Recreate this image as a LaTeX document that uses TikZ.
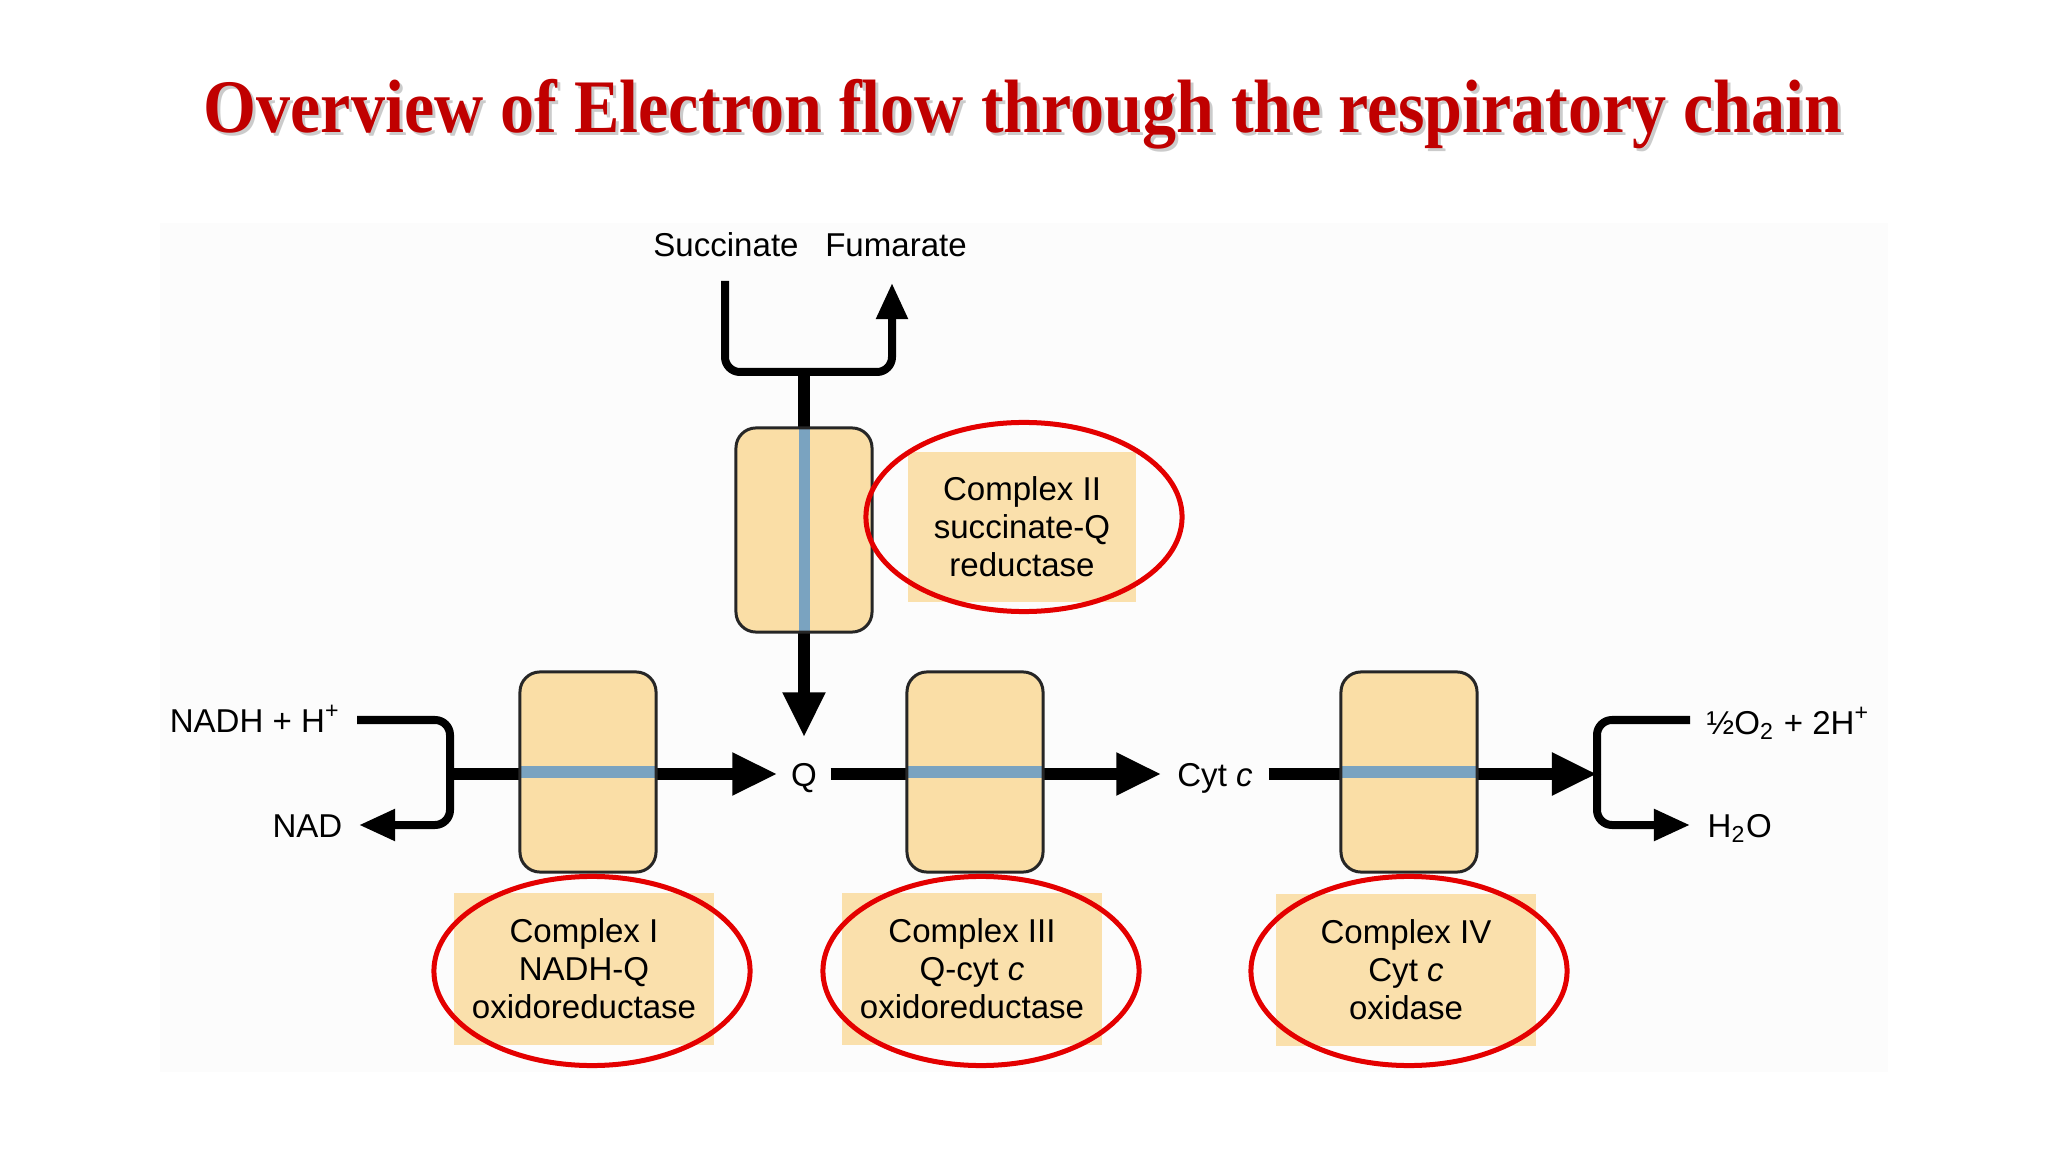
\documentclass[tikz,border=0pt]{standalone}
\usepackage{fontspec}
\setmainfont{Liberation Sans}
\newfontfamily\titlefont{Liberation Serif}
\usetikzlibrary{arrows.meta,shapes.geometric}
\definecolor{boxtan}{RGB}{250,222,166}
\definecolor{labtan}{RGB}{250,224,172}
\definecolor{stripeblue}{RGB}{122,163,192}
\definecolor{titlered}{RGB}{192,0,0}
\definecolor{ovalred}{RGB}{228,0,0}
\definecolor{panelgray}{RGB}{252,252,252}
\begin{document}
\begin{tikzpicture}[x=0.01cm,y=-0.01cm,
  cx/.style={draw=black!85, line width=0.03cm, fill=boxtan, rounded corners=0.2cm,
    minimum width=1.36cm, minimum height=2.0cm, inner sep=0pt},
  hcx/.style={cx, path picture={\draw[stripeblue, line width=0.11cm]
    (path picture bounding box.west) -- (path picture bounding box.east);}},
  vcx/.style={cx, path picture={\draw[stripeblue, line width=0.11cm]
    (path picture bounding box.north) -- (path picture bounding box.south);}},
  lab/.style={fill=labtan, inner sep=0pt, align=center, font=\fontsize{9.4}{10.8}\selectfont},
  oval/.style={ellipse, draw=ovalred, line width=0.05cm, minimum width=3.16cm,
    minimum height=1.89cm, inner sep=0pt},
  txt/.style={font=\fontsize{9.4}{10.8}\selectfont, inner sep=0pt},
  bigline/.style={line width=0.12cm, -{Triangle[length=0.45cm,width=0.40cm]}},
  thinline/.style={line width=0.08cm, rounded corners=0.15cm, -{Triangle[length=0.36cm,width=0.30cm]}},
  plainline/.style={line width=0.08cm, rounded corners=0.15cm},
  ttl/.style={font=\titlefont\bfseries\fontsize{21.5}{24}\selectfont, anchor=base, inner sep=0pt}
]
\useasboundingbox (0,0) rectangle (2048,1152);
\fill[white] (0,0) rectangle (2048,1152);
\fill[panelgray] (160,223) rectangle (1888,1072);

% title
\node[ttl, text=black!40, opacity=0.5] (titleshadow) at (1026,136)
  {\scalebox{0.9}[1]{Overview of Electron flow through the respiratory chain}};
\node[ttl, text=titlered] (title) at (1023,133)
  {\scalebox{0.9}[1]{Overview of Electron flow through the respiratory chain}};

% text labels
\node[txt, anchor=base] (succ) at (726,257) {Succinate};
\node[txt, anchor=base] (fum) at (896,257) {Fumarate};
\node[txt, anchor=base east] (nadh) at (341,732) {NADH + H\textsuperscript{+}};
\node[txt, anchor=base east] (nad) at (343,837) {NAD};
\node[txt, anchor=base west] (o2) at (1706,734) {½O\textsubscript{2} + 2H\textsuperscript{+}};
\node[txt, anchor=base west] (h2o) at (1707,837) {H\textsubscript{2}O};
\node[txt, text height=0.24cm, text depth=0pt, minimum width=0.52cm, minimum height=0.72cm] (Q) at (804,774) {Q};
\node[txt, text height=0.24cm, text depth=0pt, minimum width=1.06cm] (cyt) at (1215,774) {Cyt \textit{c}};

% junction coordinates
\coordinate (lbj) at (450,774);
\coordinate (rbj) at (1597,774);
\coordinate (sfj) at (804,372);
\coordinate (nadhs) at (357,720);
\coordinate (nadt) at (359,825);
\coordinate (succs) at (725,281);
\coordinate (fumt) at (892,283);
\coordinate (o2s) at (1690,720);
\coordinate (h2ot) at (1690,825);

% connectors
\draw[thinline] (nadhs) -| (lbj) |- (nadt);
\draw[thinline] (succs) |- (sfj) -| (fumt);
\draw[plainline] (o2s) -| (rbj);
\draw[thinline] (rbj) |- (h2ot);
\draw[bigline] (lbj) -- (Q);
\draw[bigline] (sfj) -- (Q);
\draw[bigline] (Q) -- (cyt);
\draw[bigline] (cyt) -- (rbj);

% complexes
\node[hcx] (c1) at (588,772) {};
\node[vcx, minimum height=2.04cm] (c2) at (804,530) {};
\node[hcx] (c3) at (975,772) {};
\node[hcx] (c4) at (1409,772) {};

% labels
\node[lab, minimum width=2.60cm, minimum height=1.52cm] (l1) at (584,969) {Complex I\\NADH-Q\\oxidoreductase};
\node[lab, minimum width=2.27cm, minimum height=1.50cm] (l2) at (1022,527) {Complex II\\succinate-Q\\reductase};
\node[lab, minimum width=2.59cm, minimum height=1.52cm] (l3) at (972,969) {Complex III\\Q-cyt \textit{c}\\oxidoreductase};
\node[lab, minimum width=2.60cm, minimum height=1.52cm] (l4) at (1406,970) {Complex IV\\Cyt \textit{c}\\oxidase};

% red ovals
\node[oval] (e1) at (592,971) {};
\node[oval] (e2) at (1024,517) {};
\node[oval] (e3) at (981,971) {};
\node[oval] (e4) at (1409,971) {};
\end{tikzpicture}
\end{document}
